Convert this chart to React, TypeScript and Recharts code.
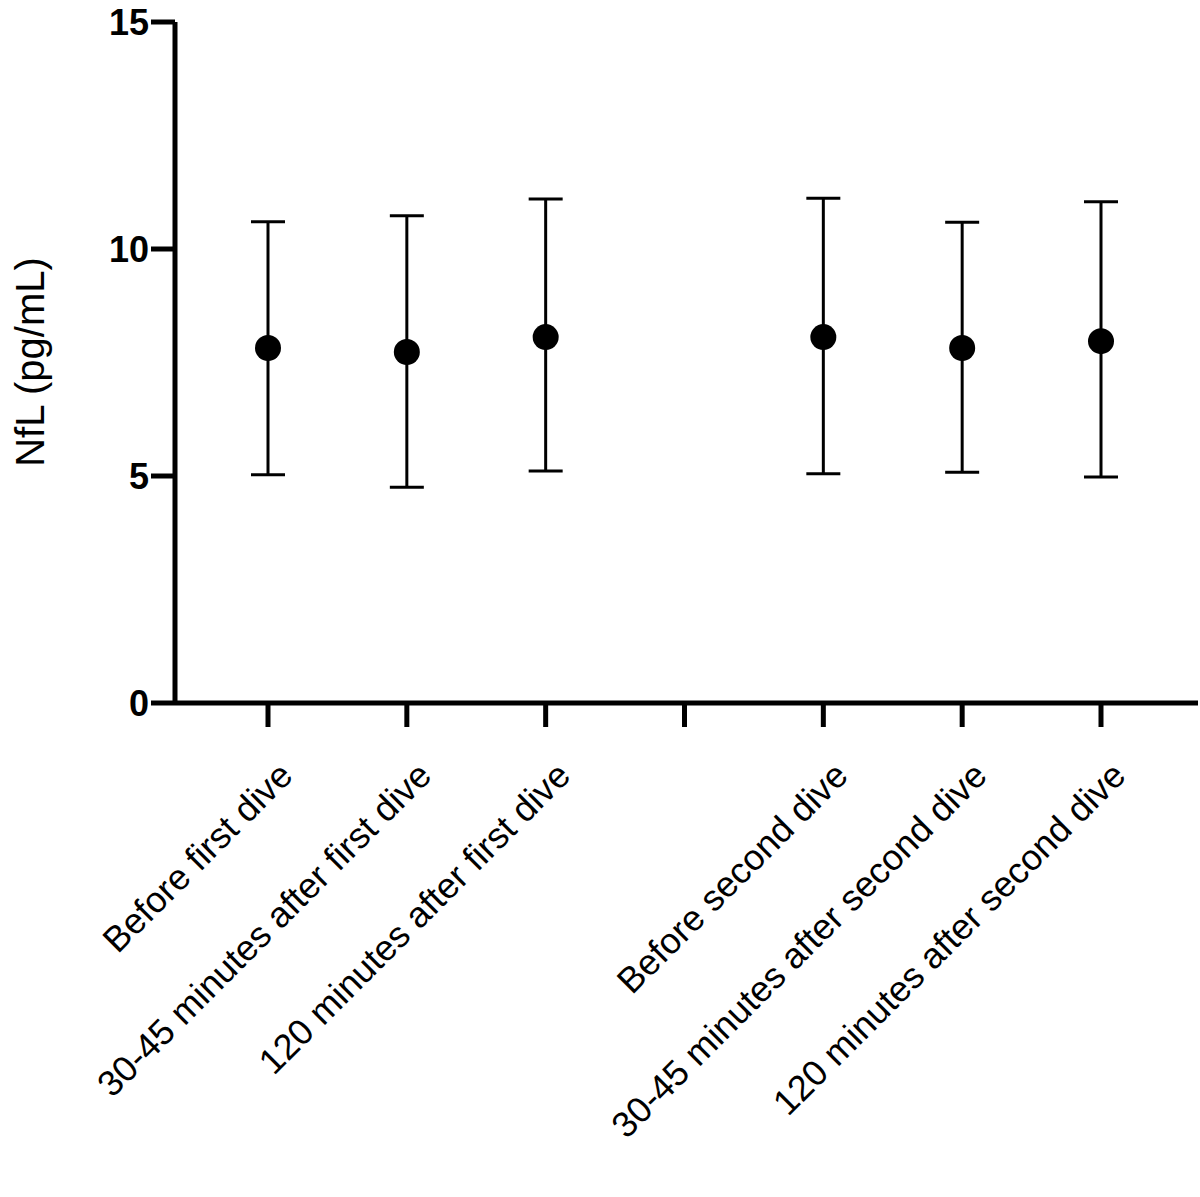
import { ScatterChart, Scatter, XAxis, YAxis, ErrorBar } from "recharts";

const categories = [
  "Before first dive",
  "30-45 minutes after first dive",
  "120 minutes after first dive",
  "",
  "Before second dive",
  "30-45 minutes after second dive",
  "120 minutes after second dive",
];
const positions = [0, 1, 2, 4, 5, 6];
const means = [7.82, 7.73, 8.06, 8.06, 7.82, 7.97];
const upper = [10.6, 10.73, 11.1, 11.12, 10.59, 11.04];
const lower = [5.03, 4.75, 5.11, 5.05, 5.08, 4.98];
const yTicks = [0, 5, 10, 15];

const data = positions.map((x, i) => ({
  x,
  y: means[i],
  err: [means[i] - lower[i], upper[i] - means[i]],
}));

const font = "Arial, 'Liberation Sans', sans-serif";

const XTick = (props: any) => {
  const { x, y, payload } = props;
  const label = categories[payload.value];
  const ty = y + 30;
  const tx = x + 8;
  return (
    <text x={tx} y={ty} textAnchor="end" fontSize={36} fontFamily={font} fill="#000"
      transform={`rotate(-45, ${tx}, ${ty})`} dominantBaseline="hanging">
      {label}
    </text>
  );
};

const YLabel = () => (
  <text x={44} y={362} textAnchor="middle" fontSize={40} fontFamily={font} fill="#000"
    transform="rotate(-90, 44, 362)">
    NfL (pg/mL)
  </text>
);

export default function App() {
  return (
    <div style={{ position: "absolute", left: 0, top: 0, background: "#fff" }}>
      <ScatterChart width={1200} height={1197} margin={{ top: 22, right: 2, left: 0, bottom: 0 }}>
        <XAxis type="number" dataKey="x" domain={[0, 6]} ticks={[0, 1, 2, 3, 4, 5, 6]}
          padding={{ left: 93, right: 97 }} height={494} tick={<XTick />}
          stroke="#000" strokeWidth={5} tickSize={24} axisLine={{ stroke: "#000", strokeWidth: 5 }}
          tickLine={{ stroke: "#000", strokeWidth: 5 }} interval={0} />
        <YAxis type="number" dataKey="y" domain={[0, 15]} ticks={yTicks} width={175}
          tickSize={24} axisLine={{ stroke: "#000", strokeWidth: 5 }}
          tickLine={{ stroke: "#000", strokeWidth: 5 }}
          tick={{ fill: "#000", fontSize: 36, fontWeight: "bold", fontFamily: font }}
          label={<YLabel />} />
        <Scatter data={data} fill="#000" isAnimationActive={false}
          shape={(p: any) => <circle cx={p.cx} cy={p.cy} r={13} fill="#000" />}>
          <ErrorBar dataKey="err" direction="y" width={17} stroke="#000" strokeWidth={3} />
        </Scatter>
      </ScatterChart>
    </div>
  );
}
